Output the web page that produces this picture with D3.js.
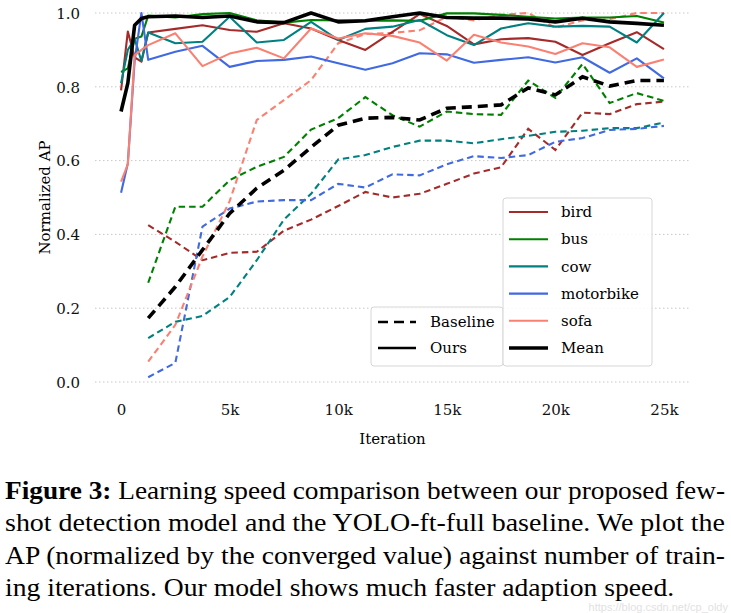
<!DOCTYPE html>
<html>
<head>
<meta charset="utf-8">
<script src="https://cdn.jsdelivr.net/npm/d3@7"></script>
<style>
  body { margin: 0; background: #fff; }
  svg { display: block; }
  .cap { font-family: "Liberation Serif", "Times New Roman", Times, serif; }
  .chartfont { font-family: "DejaVu Serif", serif; }
</style>
</head>
<body>
<svg id="chart" width="731" height="613"></svg>
<script>
const width = 731, height = 613;

// iterations
const itersOurs = [0, 312.5, 625, 937.5, 1250, 2500, 3750, 5000, 6250, 7500, 8750, 10000, 11250, 12500,
  13750, 15000, 16250, 17500, 18750, 20000, 21250, 22500, 23750, 25000];
const itersBase = [1250, 2500, 3750, 5000, 6250, 7500, 8750, 10000, 11250, 12500,
  13750, 15000, 16250, 17500, 18750, 20000, 21250, 22500, 23750, 25000];

const classes = ["bird", "bus", "cow", "motorbike", "sofa", "Mean"];
const colors = ["#a52a2a", "#008000", "#008080", "#4169e1", "#fa8072", "#000000"];

// ours (solid)
const oursBird = [0.79, 0.95, 0.88, 0.868, 0.947, 0.957, 0.967, 0.954, 0.949, 0.972, 0.958, 0.927, 0.90, 0.949,
  0.997, 0.965, 0.915, 0.929, 0.932, 0.922, 0.886, 0.918, 0.948, 0.902];
const oursBus = [0.84, 0.85, 0.93, 0.936, 0.993, 0.988, 0.997, 1.0, 0.98, 0.974, 0.981, 0.98, 0.979, 0.98,
  0.979, 0.999, 0.999, 0.995, 0.99, 0.985, 0.988, 0.988, 0.992, 0.974];
const oursCow = [0.81, 0.90, 0.93, 0.87, 0.947, 0.918, 0.922, 0.99, 0.92, 0.927, 0.976, 0.927, 0.957, 0.963,
  0.981, 0.94, 0.913, 0.958, 0.972, 0.963, 0.965, 0.963, 0.92, 1.0];
const oursMotorbike = [0.513, 0.593, 0.87, 1.0, 0.873, 0.895, 0.911, 0.854, 0.87, 0.873, 0.882, 0.864, 0.846, 0.864,
  0.891, 0.888, 0.865, 0.873, 0.88, 0.866, 0.88, 0.838, 0.877, 0.823];
const oursSofa = [0.543, 0.59, 0.885, 0.90, 0.913, 0.945, 0.856, 0.89, 0.906, 0.877, 0.958, 0.931, 0.945, 0.938,
  0.92, 0.871, 0.941, 0.92, 0.909, 0.889, 0.918, 0.907, 0.854, 0.874];
const oursMean = [0.733, 0.81, 0.967, 0.985, 0.99, 0.992, 0.988, 0.992, 0.976, 0.974, 1.0, 0.976, 0.979, 0.99,
  1.0, 0.988, 0.986, 0.986, 0.984, 0.976, 0.986, 0.976, 0.972, 0.967];

// baseline (dashed)
const baseBird = [0.425, 0.38, 0.33, 0.35, 0.353, 0.41, 0.44, 0.477, 0.515, 0.50,
  0.51, 0.537, 0.565, 0.582, 0.686, 0.629, 0.73, 0.726, 0.753, 0.76];
const baseBus = [0.269, 0.475, 0.475, 0.547, 0.583, 0.61, 0.684, 0.715, 0.772, 0.723,
  0.692, 0.733, 0.726, 0.724, 0.817, 0.77, 0.862, 0.756, 0.783, 0.762];
const baseCow = [0.119, 0.163, 0.179, 0.23, 0.33, 0.44, 0.51, 0.603, 0.615, 0.637,
  0.654, 0.654, 0.647, 0.658, 0.667, 0.678, 0.681, 0.688, 0.688, 0.703];
const baseMotorbike = [0.013, 0.052, 0.421, 0.47, 0.489, 0.493, 0.493, 0.537, 0.527, 0.563,
  0.56, 0.59, 0.612, 0.607, 0.615, 0.651, 0.661, 0.683, 0.686, 0.694];
const baseSofa = [0.055, 0.155, 0.34, 0.49, 0.71, 0.764, 0.818, 0.918, 0.943, 0.946,
  0.953, 0.99, 0.98, 0.995, 1.0, 0.96, 0.98, 0.983, 1.0, 1.0];
const baseMean = [0.173, 0.258, 0.358, 0.457, 0.525, 0.574, 0.636, 0.696, 0.715, 0.717,
  0.71, 0.742, 0.746, 0.751, 0.797, 0.778, 0.827, 0.802, 0.817, 0.817];

const yTicks = [0, 0.2, 0.4, 0.6, 0.8, 1.0];
const xTicks = [0, 5000, 10000, 15000, 20000, 25000];
const xTickLabels = ["0", "5k", "10k", "15k", "20k", "25k"];

const captionLines = [
  "Learning speed comparison between our proposed few-",
  "shot detection model and the YOLO-ft-full baseline.  We plot the",
  "AP (normalized by the converged value) against number of train-",
  "ing iterations. Our model shows much faster adaption speed."
];

const oursSeries = [oursBird, oursBus, oursCow, oursMotorbike, oursSofa, oursMean];
const baseSeries = [baseBird, baseBus, baseCow, baseMotorbike, baseSofa, baseMean];

const svg = d3.select('#chart');

const x = d3.scaleLinear([-1200, 26200], [95, 690]);
const y = d3.scaleLinear([0, 1], [382, 13]);

// grid
svg.append('g').attr('id', 'grid')
  .selectAll('line').data(yTicks).join('line')
    .attr('x1', x.range()[0]).attr('x2', x.range()[1])
    .attr('y1', d => y(d)).attr('y2', d => y(d))
    .attr('stroke', '#c8c8c8').attr('stroke-width', 1)
    .attr('stroke-dasharray', '1.5,2.5');

const chart = svg.append('g').attr('class', 'chartfont');

// axes (labels only)
const yAxis = chart.append('g')
  .attr('transform', `translate(${x.range()[0] - 12},0)`)
  .call(d3.axisLeft(y).tickValues(yTicks).tickFormat(d3.format('.1f')).tickSize(0));
const xAxis = chart.append('g')
  .attr('transform', `translate(0,${y(0) + 19})`)
  .call(d3.axisBottom(x).tickValues(xTicks).tickFormat((d, i) => xTickLabels[i]).tickSize(0));
[xAxis, yAxis].forEach(a => {
  a.select('.domain').remove();
  a.attr('font-family', null).attr('font-size', 15);
  a.selectAll('text').attr('fill', '#111');
});
yAxis.selectAll('text').attr('dy', '0.35em');

chart.append('text')
  .attr('x', (x(0) + x(25000)) / 2).attr('y', 444)
  .attr('text-anchor', 'middle').attr('font-size', '15px')
  .text('Iteration');
chart.append('text')
  .attr('transform', `translate(50 ${y(0.5)}) rotate(-90)`)
  .attr('text-anchor', 'middle').attr('font-size', '15px')
  .text('Normalized AP');

const line = xs => d3.line().x((d, i) => x(xs[i])).y(d => y(d));

const plot = chart.append('g').attr('id', 'lines');
baseSeries.forEach((s, i) => {
  const mean = i === 5;
  plot.append('path').datum(s)
    .attr('fill', 'none')
    .attr('stroke', colors[i])
    .attr('stroke-width', mean ? 3.6 : 2.1)
    .attr('stroke-dasharray', mean ? '10,6' : '6.5,4')
    .attr('d', line(itersBase));
});
oursSeries.forEach((s, i) => {
  const mean = i === 5;
  plot.append('path').datum(s)
    .attr('fill', 'none')
    .attr('stroke', colors[i])
    .attr('stroke-width', mean ? 3.6 : 2.1)
    .attr('stroke-linejoin', 'round')
    .attr('d', line(itersOurs));
});

// legend: line style
const leg1 = chart.append('g').attr('transform', 'translate(371 307)');
leg1.append('rect').attr('width', 132).attr('height', 59).attr('rx', 3)
  .attr('fill', 'white').attr('fill-opacity', 0.85).attr('stroke', '#d6d6d6');
[["Baseline", "10,6"], ["Ours", null]].forEach((d, i) => {
  const g = leg1.append('g').attr('transform', `translate(0 ${15 + i * 26})`);
  g.append('line').attr('x1', 7).attr('x2', 45)
    .attr('stroke', '#000').attr('stroke-width', 2.6)
    .attr('stroke-dasharray', d[1]);
  g.append('text').attr('x', 59).attr('dy', '0.35em')
    .attr('font-size', '15px').text(d[0]);
});

// legend: classes
const leg2 = chart.append('g').attr('transform', 'translate(503 198)');
leg2.append('rect').attr('width', 149).attr('height', 168).attr('rx', 3)
  .attr('fill', 'white').attr('fill-opacity', 0.85).attr('stroke', '#d6d6d6');
classes.forEach((c, i) => {
  const g = leg2.append('g').attr('transform', `translate(0 ${14 + i * 27.2})`);
  g.append('line').attr('x1', 6).attr('x2', 45)
    .attr('stroke', colors[i]).attr('stroke-width', i === 5 ? 3.6 : 2.1);
  g.append('text').attr('x', 58).attr('dy', '0.35em')
    .attr('font-size', '15px').text(c);
});

// caption: justified, glyphs stretched like the scan
const cap = svg.append('g').attr('class', 'cap').attr('font-size', '25px').attr('fill', '#000');
const capTexts = captionLines.map((t, i) => {
  const tx = cap.append('text').attr('x', 5).attr('y', 499 + i * 32.3);
  if (i === 0) {
    tx.append('tspan').attr('font-weight', 'bold').text('Figure 3:');
    tx.append('tspan').text(' ' + t);
  } else {
    tx.text(t);
  }
  return tx;
});
const natural = capTexts.map(t => t.node().getComputedTextLength());
const stretch = d3.mean(natural.slice(0, 3), n => 720 / n);
capTexts.forEach((t, i) => {
  const target = i < 3 ? 720 : Math.min(natural[i] * stretch, 715);
  t.attr('textLength', target).attr('lengthAdjust', 'spacingAndGlyphs');
});
svg.append('text').attr('x', 728).attr('y', 611).attr('text-anchor', 'end')
  .attr('font-family', "'Liberation Sans', sans-serif").attr('font-size', '11px')
  .attr('fill', '#e2e2e2')
  .text('https://blog.csdn.net/cp_oldy');
</script>
</body>
</html>
